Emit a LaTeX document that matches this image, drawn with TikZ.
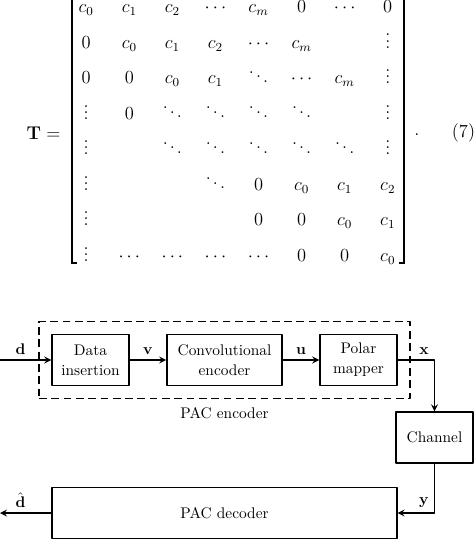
\documentclass[tikz,border=0pt]{standalone}
\usepackage{amsmath}
\usetikzlibrary{matrix,fit}
\begin{document}
\begin{tikzpicture}[x=0.65pt, y=0.65pt, line join=round, >=stealth,
		block/.style={draw, line width=1pt, minimum height=33pt, align=center, inner sep=2pt},
		link/.style={->, line width=1pt},
		brack/.style={line width=1.3pt, line join=miter}]
	\useasboundingbox (0,0) rectangle (474,540);
	% equation (7)
	\node (lhs) at (43.5,407) {\large $\mathbf{T} =$};
	\matrix (T) [matrix of math nodes, inner sep=0pt, column sep=0pt, row sep=0pt,
		nodes={font=\large, inner sep=0pt, minimum width=28pt, minimum height=23.1pt,
			text height=8pt, text depth=2pt, anchor=center}] at (237,407.5) {
		c_0 & c_1 & c_2 & \cdots & c_m & 0 & \cdots & 0 \\
		0 & c_0 & c_1 & c_2 & \cdots & c_m & & \vdots \\
		0 & 0 & c_0 & c_1 & \ddots & \cdots & c_m & \vdots \\
		\vdots & 0 & \ddots & \ddots & \ddots & \ddots & & \vdots \\
		\vdots & & \ddots & \ddots & \ddots & \ddots & \ddots & \vdots \\
		\vdots & & & \ddots & 0 & c_0 & c_1 & c_2 \\
		\vdots & & & & 0 & 0 & c_0 & c_1 \\
		\vdots & \cdots & \cdots & \cdots & \cdots & 0 & 0 & c_0 \\
	};
	\draw[brack] (77,541) -- (72,541) -- (72,277) -- (77,277);
	\draw[brack] (399,541) -- (404,541) -- (404,277) -- (399,277);
	\node (stop) at (417,405) {\large .};
	\node (eqno) at (463.5,407) {\large (7)};
	% PAC coding chain
	\node[block, minimum width=50pt] (ins) at (90.5,180) {Data\\[1pt]insertion};
	\node[block, minimum width=74.8pt] (conv) at (224.5,180) {Convolutional\\[1pt]encoder};
	\node[block, minimum width=50pt] (map) at (358.5,180) {Polar\\[1pt]mapper};
	\node[block, minimum width=50pt] (chan) at (434.5,102.5) {Channel};
	\node[block, minimum width=224pt] (dec) at (224.5,27) {PAC decoder};
	\node[draw, line width=1pt, dash pattern=on 5pt off 3pt, inner sep=8pt,
		fit=(ins)(conv)(map), label={[label distance=2pt]below:PAC encoder}] (enc) {};
	\coordinate (src) at (0,180);
	\coordinate (snk) at (0,27);
	\draw[link] (src) -- node[above, pos=0.4] {$\mathbf{d}$} (ins);
	\draw[link] (ins) -- node[above] {$\mathbf{v}$} (conv);
	\draw[link] (conv) -- node[above] {$\mathbf{u}$} (map);
	\draw[link] (map) -| node[pos=0.5, above left] {$\mathbf{x}$} (chan);
	\draw[link] (chan) |- node[pos=0.5, above left] {$\mathbf{y}$} (dec);
	\draw[link] (dec) -- node[above, pos=0.6] {$\hat{\mathbf{d}}$} (snk);
\end{tikzpicture}
\end{document}
